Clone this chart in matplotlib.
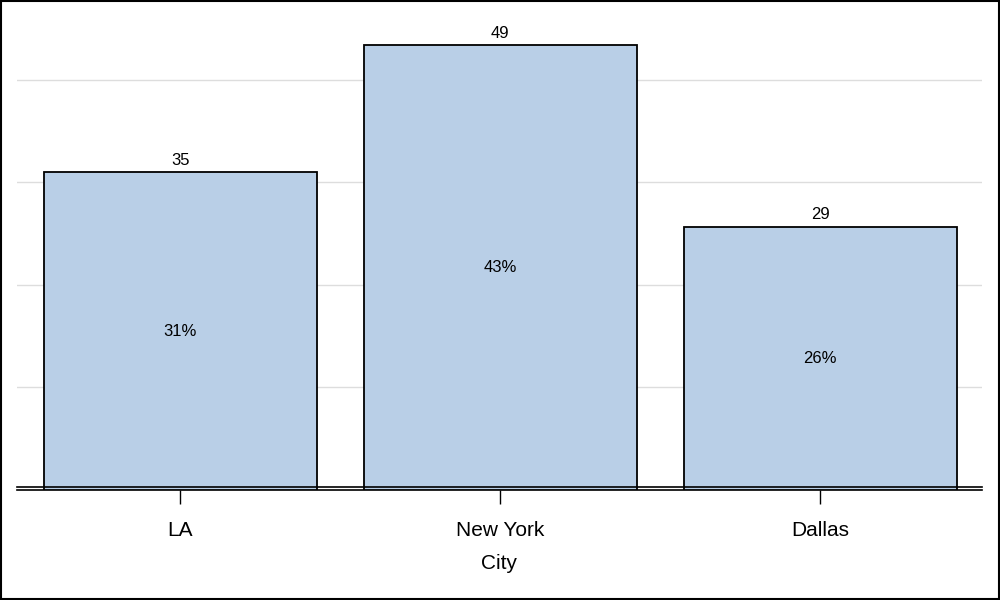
import matplotlib
matplotlib.use("Agg")
import matplotlib.pyplot as plt
from matplotlib.patches import Rectangle

cities = ["LA", "New York", "Dallas"]
counts = [35, 49, 29]
percents = ["31%", "43%", "26%"]
grid_vals = [11.35, 22.6, 33.9, 45.2]

plt.rcParams["font.family"] = ["Liberation Sans", "DejaVu Sans"]

fig = plt.figure(figsize=(10, 6), dpi=100)
ax = fig.add_axes([0.017, 0.183, 0.965, 0.817])
x = range(len(cities))
ax.bar(x, counts, width=0.853, color="#b9cfe7", edgecolor="black", linewidth=1.3, zorder=3)
for xi, c, p in zip(x, counts, percents):
    ax.text(xi, c + 0.5, str(c), ha="center", va="bottom", fontsize=12)
    ax.text(xi, c / 2, p, ha="center", va="center", fontsize=12)
for g in grid_vals:
    ax.axhline(g, color="#dddddd", linewidth=1, zorder=1)
ax.set_xlim(-0.51, 2.505)
ax.set_ylim(0, 54)
ax.set_yticks([])
ax.set_xticks(list(x))
ax.set_xticklabels(cities, fontsize=15)
ax.tick_params(axis="x", length=10, width=1, pad=12)
for s in ["top", "right", "left"]:
    ax.spines[s].set_visible(False)
ax.spines["bottom"].set_linewidth(1.2)
ax.axhline(0.3, color="black", linewidth=1.2, clip_on=False, zorder=4)
ax.set_xlabel("City", fontsize=15, labelpad=10)
fig.patches.append(Rectangle((0.001, 0.001), 0.998, 0.997, transform=fig.transFigure,
                             fill=False, edgecolor="black", linewidth=1.5))
fig.savefig("out.png", dpi=100)
